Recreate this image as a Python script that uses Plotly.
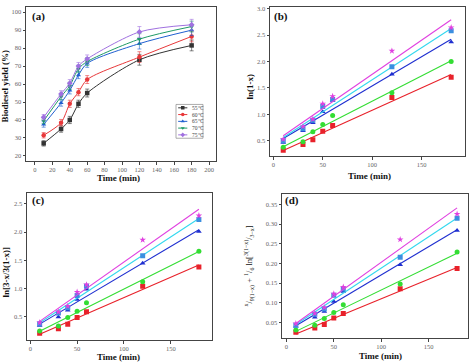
import numpy as np
import plotly.graph_objects as go

time = [10, 30, 40, 50, 60, 120, 180]
temps = ["55℃", "60℃", "65℃", "70℃", "75℃"]

# Panel (a): biodiesel yield (%)
yield_55 = [27.0, 35.0, 40.0, 49.0, 55.0, 73.5, 81.5]
yield_60 = [31.5, 38.5, 49.0, 55.5, 62.5, 75.0, 86.5]
yield_65 = [37.5, 49.5, 56.5, 65.0, 71.5, 82.5, 90.0]
yield_70 = [39.5, 53.0, 59.0, 68.5, 72.5, 85.0, 92.0]
yield_75 = [41.5, 54.5, 60.5, 70.0, 74.0, 89.0, 93.0]
yield_err = [1.5, 1.8, 2.0, 2.0, 2.2, 3.0, 3.0]

# Panel (b): -ln(1-x)
b_55 = [0.32, 0.43, 0.52, 0.68, 0.79, 1.32, 1.70]
b_60 = [0.38, 0.48, 0.67, 0.81, 0.98, 1.41, 2.00]
b_65 = [0.47, 0.69, 0.84, 1.05, 1.26, 1.76, 2.37]
b_70 = [0.50, 0.73, 0.89, 1.15, 1.28, 1.90, 2.58]
b_75 = [0.53, 0.77, 0.91, 1.20, 1.34, 2.20, 2.64]

# Panel (c)
c_55 = [0.21, 0.29, 0.37, 0.49, 0.59, 1.04, 1.38]
c_60 = [0.25, 0.34, 0.49, 0.60, 0.75, 1.12, 1.66]
c_65 = [0.35, 0.50, 0.62, 0.81, 0.99, 1.45, 2.01]
c_70 = [0.38, 0.57, 0.66, 0.88, 1.04, 1.58, 2.22]
c_75 = [0.40, 0.59, 0.69, 0.94, 1.07, 1.86, 2.29]

# Panel (d)
d_55 = [0.025, 0.036, 0.045, 0.061, 0.073, 0.136, 0.187]
d_60 = [0.031, 0.043, 0.060, 0.075, 0.095, 0.148, 0.229]
d_65 = [0.040, 0.063, 0.078, 0.103, 0.129, 0.197, 0.284]
d_70 = [0.043, 0.071, 0.084, 0.119, 0.135, 0.216, 0.315]
d_75 = [0.047, 0.073, 0.088, 0.123, 0.140, 0.261, 0.326]

a_colors = ["#333333", "#e8383a", "#1f5fd0", "#1f9a66", "#a070e0"]
a_symbols = ["square", "circle", "triangle-up", "triangle-down", "diamond"]
k_line_colors = ["#e8212a", "#33dd33", "#1f2fd0", "#33d8ee", "#e040e0"]
k_mark_colors = ["#e8212a", "#33dd33", "#1f2fd0", "#3b8fe0", "#e040e0"]
k_symbols = ["square", "circle", "triangle-up", "square", "star"]

SERIF = "Liberation Serif, Times New Roman, serif"
W, H = 474, 364
fig = go.Figure()

# (a)
for i, ys in enumerate([yield_55, yield_60, yield_65, yield_70, yield_75]):
    fig.add_trace(go.Scatter(
        x=time, y=ys, name=temps[i], mode="lines+markers",
        line=dict(color=a_colors[i], width=1, shape="spline", smoothing=0.8),
        marker=dict(symbol=a_symbols[i], size=4.5, color=a_colors[i]),
        error_y=dict(type="data", array=yield_err, color=a_colors[i], thickness=0.6, width=2),
        xaxis="x", yaxis="y", showlegend=False))

panels = [("x2", "y2", [b_55, b_60, b_65, b_70, b_75]),
          ("x3", "y3", [c_55, c_60, c_65, c_70, c_75]),
          ("x4", "y4", [d_55, d_60, d_65, d_70, d_75])]
tx = np.array(time, dtype=float)
for xa, ya, series in panels:
    for i, ys in enumerate(series):
        k, b0 = np.polyfit(tx, np.array(ys), 1)
        xf = np.array([tx.min(), tx.max()])
        fig.add_trace(go.Scatter(x=xf, y=k * xf + b0, mode="lines",
                                 line=dict(color=k_line_colors[i], width=1.1),
                                 xaxis=xa, yaxis=ya, showlegend=False, hoverinfo="skip"))
        fig.add_trace(go.Scatter(x=time, y=ys, mode="markers",
                                 marker=dict(symbol=k_symbols[i], size=5, color=k_mark_colors[i]),
                                 xaxis=xa, yaxis=ya, showlegend=False))

# compact custom legend for panel (a), drawn in an auxiliary hidden axis
leg_x0, leg_x1, leg_y0, leg_y1 = 176, 203, 103, 137
for i, t in enumerate(temps):
    row = 4.5 - i
    fig.add_trace(go.Scatter(x=[0.08, 0.42], y=[row, row], mode="lines",
                             line=dict(color=a_colors[i], width=1),
                             xaxis="x5", yaxis="y5", showlegend=False, hoverinfo="skip"))
    fig.add_trace(go.Scatter(x=[0.25], y=[row], mode="markers",
                             marker=dict(symbol=a_symbols[i], size=3.5, color=a_colors[i]),
                             xaxis="x5", yaxis="y5", showlegend=False, hoverinfo="skip"))
    fig.add_annotation(text=t, x=0.5, y=row, xref="x5", yref="y5", xanchor="left",
                       yanchor="middle", showarrow=False,
                       font=dict(family=SERIF, size=5.5, color="#444"))
fig.add_shape(type="rect", xref="paper", yref="paper",
              x0=leg_x0 / W, x1=leg_x1 / W, y0=1 - leg_y1 / H, y1=1 - leg_y0 / H,
              line=dict(color="#888", width=0.7), fillcolor="rgba(0,0,0,0)", layer="above")


def ax(domain, rng, dtick, tickfmt=None):
    d = dict(domain=domain, range=rng, dtick=dtick, tick0=0,
             showline=True, linecolor="#444", linewidth=1, mirror=True,
             ticks="outside", ticklen=2.5, tickcolor="#444", tickwidth=1,
             showgrid=False, zeroline=False,
             tickfont=dict(family=SERIF, size=6.5, color="#666"))
    if tickfmt:
        d["tickformat"] = tickfmt
    return d

fig.update_layout(
    width=W, height=H, margin=dict(l=0, r=0, t=0, b=0),
    paper_bgcolor="white", plot_bgcolor="white",
    xaxis=ax([26 / W, 216 / W], [-10.3, 208], 20),
    yaxis=ax([1 - 160 / H, 1 - 5 / H], [17.1, 102.9], 10),
    xaxis2=ax([270 / W, 465 / W], [-3.4, 194], 50),
    yaxis2=ax([1 - 155 / H, 1 - 5 / H], [0.21, 3.03], 0.5, ".1f"),
    xaxis3=ax([27 / W, 212 / W], [-3.5, 194], 50),
    yaxis3=ax([1 - 340 / H, 1 - 192 / H], [0.09, 2.69], 0.5, ".1f"),
    xaxis4=ax([282 / W, 468 / W], [-4.6, 191.5], 50),
    yaxis4=ax([1 - 338 / H, 1 - 193 / H], [0.01, 0.377], 0.05, ".2f"),
    xaxis5=dict(domain=[leg_x0 / W, leg_x1 / W], range=[0, 1], visible=False, anchor="y5"),
    yaxis5=dict(domain=[1 - leg_y1 / H, 1 - leg_y0 / H], range=[0, 5], visible=False, anchor="x5"),
)
for n in ["", "2", "3", "4"]:
    fig.layout["xaxis" + n].anchor = "y" + n
    fig.layout["yaxis" + n].anchor = "x" + n

def ann(text, px, py, size=9, angle=0, bold=True):
    fig.add_annotation(text=("<b>%s</b>" % text) if bold else text,
                       x=px / W, y=1 - py / H, xref="paper", yref="paper",
                       xanchor="center", yanchor="middle", showarrow=False, textangle=angle,
                       font=dict(family=SERIF, size=size, color="#111"))

# axis titles
ann("Time (min)", 118, 177)
ann("Time (min)", 369, 175)
ann("Time (min)", 118, 357)
ann("Time (min)", 380, 356)
ann("Biodiesel yield (%)", 5, 85, angle=-90)
ann("ln(1-x)", 250, 85, angle=-90)
ann("ln[3-x/3(1-x)]", 6, 272, angle=-90)
ann("<sup>x</sup>/<sub>9(1−x)</sub> + <sup>1</sup>/<sub>6</sub> ln[<sup>3(1−x)</sup>/<sub>3−x</sub>]",
    249, 266, size=8.5, angle=-90, bold=False)

# panel labels
for txt, px, py in [("(a)", 38, 15), ("(b)", 281, 15), ("(c)", 38, 200), ("(d)", 292, 200)]:
    ann(txt, px, py, size=11)

fig.write_html("out.html", config={"displayModeBar": False},
               post_script="document.body.style.margin='0';document.body.style.overflow='hidden';")
